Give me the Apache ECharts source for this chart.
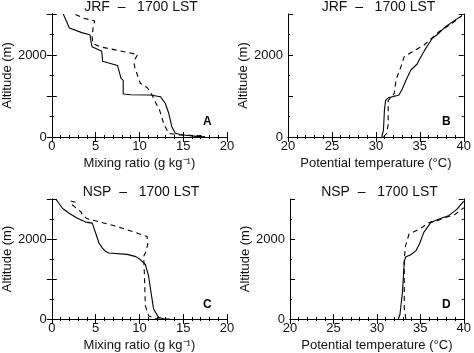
<!DOCTYPE html>
<html><head><meta charset="utf-8">
<script src="https://cdn.jsdelivr.net/npm/echarts@6/dist/echarts.min.js"></script>
<style>html,body{margin:0;padding:0;background:#fff}#c{width:474px;height:353px}</style>
</head><body><div id="c"></div>
<script>
// Panel A: JRF mixing ratio (g/kg) vs altitude (m)
var jrfMixSolid = [[1.3,3000],[1.6,2860],[2.0,2660],[3.5,2540],[4.35,2495],[4.5,2290],[4.6,2200],[5.7,2090],[5.8,1846],[6.5,1805],[7.5,1745],[7.9,1430],[8.15,1380],[8.15,1050],[9.0,1030],[11.25,1024],[12.4,983],[12.95,822],[13.35,578],[13.7,251],[14.1,90],[14.65,60],[15.5,35],[16.5,15],[17.5,5]];
var jrfMixDash = [[2.7,2990],[3.6,2900],[4.9,2830],[4.7,2650],[4.6,2450],[4.7,2280],[5.5,2200],[7.6,2110],[9.8,2010],[9.5,1900],[9.4,1780],[9.5,1680],[10.1,1310],[10.9,1200],[11.45,1024],[11.9,820],[12.3,658],[12.76,333],[13.33,90],[14.65,49],[15.8,41],[17.5,25]];
// Panel B: JRF potential temperature (°C)
var jrfThetaSolid = [[30.67,0],[30.86,160],[30.97,650],[31.1,890],[31.4,955],[32.0,990],[32.6,1020],[32.95,1146],[33.5,1420],[33.98,1634],[34.7,1780],[34.92,1878],[35.5,2100],[36.05,2285],[36.42,2407],[37.0,2500],[37.93,2690],[39.0,2850],[39.8,2960]];
var jrfThetaDash = [[30.86,0],[31.2,80],[31.4,300],[31.4,890],[32.09,1066],[32.3,1400],[32.85,1715],[33.22,1959],[34.16,2081],[35.48,2244],[36.3,2400],[37.18,2568],[38.68,2773],[39.8,2960]];
// Panel C: NSP mixing ratio
var nspMixSolid = [[0.45,3000],[1.21,2769],[1.97,2645],[2.92,2521],[3.86,2422],[4.62,2397],[4.81,2273],[5.0,2149],[5.38,1901],[5.76,1777],[6.13,1693],[6.5,1650],[8.6,1615],[9.6,1560],[10.1,1487],[10.68,1363],[11.05,1074],[11.33,661],[11.62,248],[12.19,41],[12.76,5],[13.5,0]];
var nspMixDash = [[2.16,2950],[2.73,2918],[2.35,2851],[3.3,2685],[3.49,2603],[4.06,2504],[7.46,2313],[10.87,2065],[10.95,1859],[10.68,1653],[10.49,1570],[10.56,1157],[10.68,330],[11.05,83],[11.8,5],[12.5,0]];
// Panel D: NSP potential temperature
var nspThetaSolid = [[32.46,0],[32.65,105],[32.95,685],[33.15,1425],[33.3,1550],[33.9,1605],[34.5,1710],[34.9,1875],[35.4,2165],[36.2,2410],[37.1,2495],[38.3,2590],[39.2,2740],[40.0,2945]];
var nspThetaDash = [[33.33,0],[33.15,270],[33.15,1095],[33.15,1505],[33.3,1835],[33.7,2125],[34.9,2245],[36.0,2410],[36.8,2450],[37.9,2535],[39.0,2615],[40.0,2780]];

var titles = ['JRF  \u2013   1700 LST','JRF  \u2013   1700 LST','NSP  \u2013   1700 LST','NSP  \u2013   1700 LST'];
var letters = ['A','B','C','D'];
var xNames = ['Mixing ratio (g kg\u207B\u00B9)','Potential temperature (\u00B0C)','Mixing ratio (g kg\u207B\u00B9)','Potential temperature (\u00B0C)'];
var xRanges = [[0,20],[20,40],[0,20],[20,40]];
var yRange = [0,3000];

var boxes = [
  {left:51,top:14,width:176,height:123},
  {left:288,top:14,width:177,height:123},
  {left:51,top:199,width:176,height:121},
  {left:290,top:199,width:175,height:121}
];
var seriesData = [[jrfMixSolid,jrfMixDash],[jrfThetaSolid,jrfThetaDash],[nspMixSolid,nspMixDash],[nspThetaSolid,nspThetaDash]];
var FONT = 'Liberation Sans, Arial, sans-serif';
var line = {lineStyle:{color:'#000',width:1}};
var grid=[],xAxis=[],yAxis=[],series=[],graphic=[],title=[];
boxes.forEach(function(b,i){
  grid.push({left:b.left,top:b.top,width:b.width,height:b.height,show:false});
  var xc = {type:'value',gridIndex:i,min:xRanges[i][0],max:xRanges[i][1],interval:5,
    axisLine:line,axisTick:{inside:true,length:5,lineStyle:{color:'#000'}},
    minorTick:{show:true,splitNumber:5,length:2,lineStyle:{color:'#000'}},splitLine:{show:false}};
  xAxis.push(Object.assign({},xc,{position:'bottom',name:xNames[i],nameLocation:'middle',nameGap:20,
    nameTextStyle:{fontFamily:FONT,fontSize:13,color:'#111'},
    axisLabel:{fontFamily:FONT,fontSize:13,color:'#111',margin:3}}));
  xAxis.push(Object.assign({},xc,{position:'top',axisLabel:{show:false}}));
  var yc = {type:'value',gridIndex:i,min:yRange[0],max:yRange[1],interval:1000,
    axisLine:line,axisTick:{inside:true,length:5,lineStyle:{color:'#000'}},
    minorTick:{show:true,splitNumber:2,length:2,lineStyle:{color:'#000'}},splitLine:{show:false}};
  yAxis.push(Object.assign({},yc,{position:'left',name:'Altitude (m)',nameLocation:'middle',nameGap:37,
    nameTextStyle:{fontFamily:FONT,fontSize:13,color:'#111'},
    axisLabel:{fontFamily:FONT,fontSize:13,color:'#111',margin:5,formatter:function(v){return (v===0||v===2000)?String(v):'';}}}));
  yAxis.push(Object.assign({},yc,{position:'right',axisLabel:{show:false}}));
  series.push({type:'line',xAxisIndex:2*i,yAxisIndex:2*i,data:seriesData[i][0],showSymbol:false,
    lineStyle:{color:'#000',width:1.1,type:'solid'},z:3});
  series.push({type:'line',xAxisIndex:2*i,yAxisIndex:2*i,data:seriesData[i][1],showSymbol:false,
    lineStyle:{color:'#000',width:1.1,type:[5,4]},z:3});
  title.push({text:titles[i],left:b.left+b.width/2+2,top:b.top-14,textAlign:'center',padding:0,
    textStyle:{fontFamily:FONT,fontSize:14,fontWeight:'normal',color:'#111'}});
});
var letterPos = [[203,116],[442,116],[203,299],[442,299]];
letterPos.forEach(function(p,i){
  graphic.push({type:'text',left:p[0],top:p[1],style:{text:letters[i],font:'bold 12px '+FONT,fill:'#000'}});
});
var chart = echarts.init(document.getElementById('c'),null,{renderer:'canvas'});
chart.setOption({animation:false,title:title,grid:grid,xAxis:xAxis,yAxis:yAxis,series:series,graphic:graphic});
</script></body></html>
